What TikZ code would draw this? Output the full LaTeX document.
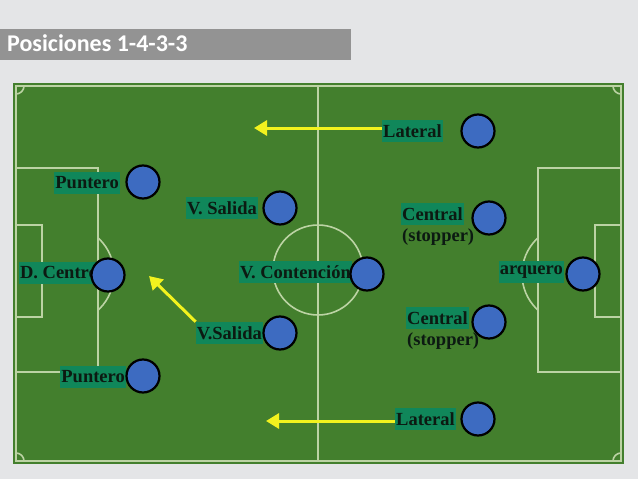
\documentclass[tikz,border=0pt]{standalone}
\usepackage{fontspec}
\usepackage{tikz}
\usetikzlibrary{arrows.meta}
\setmainfont{Liberation Serif}
\newfontfamily\titlefont{Carlito}
\definecolor{paper}{HTML}{E4E5E7}
\definecolor{titlegray}{HTML}{939393}
\definecolor{grass}{HTML}{437F2D}
\definecolor{chalk}{HTML}{BCD3A4}
\definecolor{tagbox}{HTML}{10875A}
\definecolor{tagink}{HTML}{0C1A12}
\definecolor{playerblue}{HTML}{3D6BC1}
\definecolor{runyellow}{HTML}{F2F21E}
\tikzset{
  player/.style={circle, draw=black, line width=2.2pt, fill=playerblue, minimum size=33pt, inner sep=0pt},
  tag/.style={fill=tagbox, text=tagink, font=\fontsize{18.5}{20}\selectfont\bfseries, inner xsep=1pt, inner ysep=4.5pt},
  note/.style={text=tagink, font=\fontsize{18.5}{20}\selectfont\bfseries, inner sep=1pt},
  run/.style={draw=runyellow, line width=3pt, -{Triangle[length=13pt,width=15pt]}}
}
\begin{document}
\begin{tikzpicture}[x=1pt,y=-1pt]
\useasboundingbox (0,0) rectangle (638,479);
\fill [paper] (0,0) rectangle (638,479);
% title bar
\fill [titlegray] (0,29) rectangle (351,60);
\node [anchor=base west, inner sep=0pt, text=white, font=\titlefont\bfseries\fontsize{24}{26}\selectfont] (title) at (7,52) {Posiciones 1-4-3-3};
% pitch
\fill [grass] (13,83) rectangle (624,464);
\begin{scope}[draw=chalk, line width=1.6pt]
\draw (16,86) rectangle (621,461);
\draw (318,86) -- (318,461);
\draw (318,270) circle (45);
% left area
\draw (16,168) -- (98,168) -- (98,372) -- (16,372);
\draw (16,225) -- (42,225) -- (42,317) -- (16,317);
\begin{scope}
\clip (98,150) rectangle (200,400);
\draw (65,274) circle (49);
\end{scope}
% right area
\draw (621,168) -- (538,168) -- (538,372) -- (621,372);
\draw (621,225) -- (595,225) -- (595,317) -- (621,317);
\begin{scope}
\clip (438,150) rectangle (538,400);
\draw (571,274) circle (49);
\end{scope}
% corners
\begin{scope}
\clip (16,86) rectangle (621,461);
\foreach \cx/\cy in {16/86, 621/86, 16/461, 621/461}
  \draw (\cx,\cy) circle (8);
\end{scope}
\end{scope}
% labels
\node [tag, anchor=east] (lpuntA) at (120,183) {Puntero};
\node [tag, anchor=east] (lsalA) at (258,208) {V. Salida};
\node [tag, anchor=east] (lcentro) at (99,273) {D. Centro};
\node [tag, anchor=east] (lsalB) at (263,333) {V.Salida};
\node [tag, anchor=east] (lpuntB) at (126,377) {Puntero};
\node [tag, anchor=east] (lcont) at (352,272) {V. Contención};
\node [tag, anchor=west] (llatA) at (382,131) {Lateral};
\node [tag, anchor=west] (lcenA) at (401,214) {Central};
\node [note, anchor=north west, yshift=-2pt] (lstopA) at (lcenA.south west) {(stopper)};
\node [tag, anchor=east] (larq) at (564,272) {arquero};
\node [tag, anchor=west] (lcenB) at (406,318) {Central};
\node [note, anchor=north west, yshift=-2pt] (lstopB) at (lcenB.south west) {(stopper)};
\node [tag, anchor=west] (llatB) at (395,419) {Lateral};
% players
\node [player] (puntA) at (143,182) {};
\node [player] (salA) at (280,208) {};
\node [player] (centro) at (108,275) {};
\node [player] (salB) at (280,333) {};
\node [player] (puntB) at (143,376) {};
\node [player] (cont) at (367,274) {};
\node [player] (latA) at (478,131) {};
\node [player] (cenA) at (489,218) {};
\node [player] (arq) at (583,274) {};
\node [player] (cenB) at (489,322) {};
\node [player] (latB) at (478,419) {};
% runs
\coordinate (goA) at (254,128);
\coordinate (goB) at (266,421);
\coordinate (goC) at (149,276);
\draw [run] (llatA.west |- goA) -- (goA);
\draw [run] (llatB.west |- goB) -- (goB);
\draw [run] (lsalB.north west) -- (goC);
\end{tikzpicture}
\end{document}
